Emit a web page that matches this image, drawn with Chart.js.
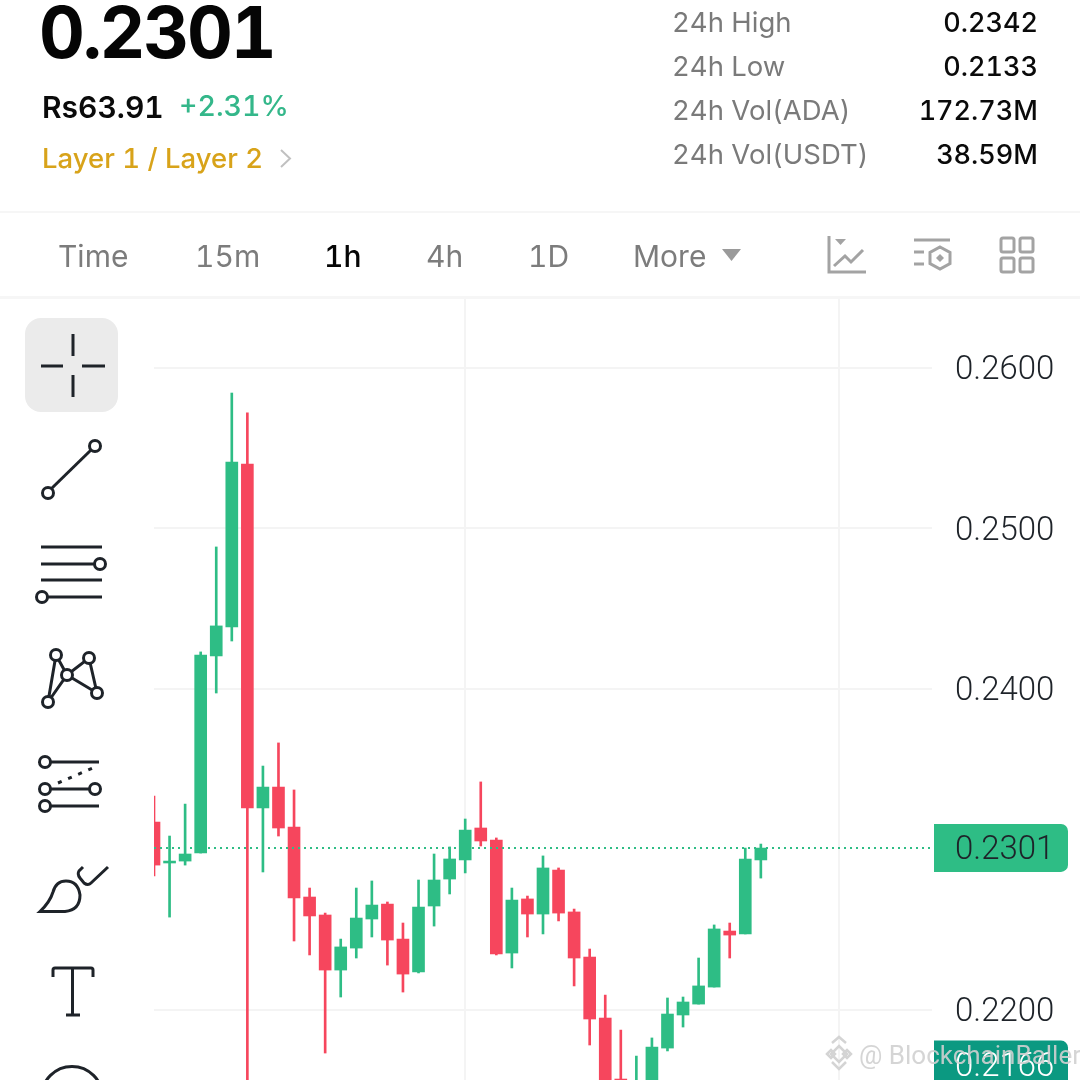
<!DOCTYPE html>
<html>
<head>
<meta charset="utf-8">
<title>ADA/USDT 1h</title>
<script src="https://cdn.jsdelivr.net/npm/chart.js@4"></script>
<style>
html, body { margin: 0; padding: 0; background: #fff; }
#page { position: relative; width: 1080px; height: 1080px; overflow: hidden; font-family: Inter, sans-serif; font-variant-numeric: tabular-nums; }
#page div { position: absolute; white-space: nowrap; line-height: 1; }
canvas { position: absolute; left: 0; top: 0; }
svg { position: absolute; left: 0; top: 0; }
.stat { left: 672px; font-size: 27.5px; color: #7a7a7a; }
.val { right: 42px; font-size: 27px; font-weight: 500; color: #0a0a0a; }
.tab { top: 241px; font-size: 30px; color: #7c7c7c; }
</style>
</head>
<body>
<div id="page">
  <canvas id="chart" width="1080" height="1080"></canvas>
  <svg width="1080" height="1080" fill="none" stroke="#1e2329" stroke-width="3">
    <!-- header right icons -->
    <g stroke="#a3a3a3">
      <path d="M829 236V272H866"/>
      <path d="M834 266L845 256L851 262L863 250"/>
      <path d="M835 239H846L840.5 245Z" fill="#a3a3a3" stroke="none"/>
      <path d="M914 240H950M914 252H924M914 264H924"/>
      <path d="M940 247L950 252.500V263.500L940 269L930 263.500V252.500Z"/>
      <path d="M940 254L944 258L940 262L936 258Z" fill="#a3a3a3" stroke="none"/>
      <rect x="1001" y="238" width="13" height="14" rx="2"/>
      <rect x="1020" y="238" width="13" height="14" rx="2"/>
      <rect x="1001" y="258" width="13" height="14" rx="2"/>
      <rect x="1020" y="258" width="13" height="14" rx="2"/>
    </g>
    <path d="M722 249H741L731.500 261Z" fill="#9a9a9a" stroke="none"/>
    <path d="M281 150L290 158.500L281 167" stroke="#c0c0c0" stroke-width="2"/>
    <rect x="0" y="211.500" width="1080" height="1" fill="#eeeeee" stroke="none"/>
    <rect x="0" y="296" width="1080" height="3" fill="#f6f6f6" stroke="none"/>
    <!-- drawing toolbar -->
    <rect x="25" y="318" width="93" height="94" rx="16" fill="#ebebeb" stroke="none"/>
    <path d="M73 334V356M73 375V397M41 366H63M82 366H105"/>
    <path d="M51 489L91 450"/>
    <circle cx="48" cy="493" r="5.500" fill="#fff"/>
    <circle cx="95" cy="446" r="5.500" fill="#fff"/>
    <path d="M41 547H102M41 564H95M41 580H102M47 597H102"/>
    <circle cx="100" cy="564" r="5.500" fill="#fff"/>
    <circle cx="42" cy="597" r="5.500" fill="#fff"/>
    <path d="M48 702L56 655L67 675L89 658L97 693L67 675L48 702"/>
    <circle cx="56" cy="655" r="5.500" fill="#fff"/>
    <circle cx="89" cy="658" r="5.500" fill="#fff"/>
    <circle cx="67" cy="675" r="5.500" fill="#fff"/>
    <circle cx="97" cy="693" r="5.500" fill="#fff"/>
    <circle cx="48" cy="702" r="5.500" fill="#fff"/>
    <path d="M51 762H99M51 789H90M51 806H99"/>
    <path d="M58 783L95 767" stroke-dasharray="4 7"/>
    <circle cx="45" cy="762" r="5.500" fill="#fff"/>
    <circle cx="45" cy="789" r="5.500" fill="#fff"/>
    <circle cx="95" cy="789" r="5.500" fill="#fff"/>
    <circle cx="45" cy="806" r="5.500" fill="#fff"/>
    <path d="M83 867L79 871Q77 874 80 878L84 883Q88 886 91 883L108 867"/>
    <path d="M40 911.500H65Q80 910 80 895Q78 881 66 881Q56 881 53 892Q50 902 40 911.500Z"/>
    <path d="M53 977V970Q53 968 55 968H91Q93 968 93 970V977M72.500 968V1015M66 1015H80"/>
    <circle cx="72" cy="1097" r="30.500"/>
  </svg>

  <div style="left:39px;top:-3px;font-size:71px;letter-spacing:-2.200px;font-weight:700;color:#050505;">0.2301</div>
  <div style="left:42px;top:92px;font-size:30px;font-weight:600;color:#0a0a0a;">Rs63.91</div>
  <div style="left:179px;top:92px;font-size:28.500px;font-weight:500;color:#34b78a;">+2.31%</div>
  <div style="left:42px;top:145px;font-size:27.500px;font-weight:500;color:#d8a31a;">Layer 1 / Layer 2</div>

  <div class="stat" style="top:9px;">24h High</div><div class="val" style="top:9px;">0.2342</div>
  <div class="stat" style="top:53px;">24h Low</div><div class="val" style="top:53px;">0.2133</div>
  <div class="stat" style="top:97px;">24h Vol(ADA)</div><div class="val" style="top:97px;">172.73M</div>
  <div class="stat" style="top:141px;">24h Vol(USDT)</div><div class="val" style="top:141px;">38.59M</div>

  <div class="tab" style="left:58px;">Time</div>
  <div class="tab" style="left:195px;">15m</div>
  <div class="tab" style="left:324px;color:#050505;font-weight:500;">1h</div>
  <div class="tab" style="left:426px;">4h</div>
  <div class="tab" style="left:528px;">1D</div>
  <div class="tab" style="left:633px;">More</div>

  <svg width="1080" height="1080" fill="none" stroke="#d4d4d4" stroke-width="2.500">
    <!-- watermark logo -->
    <path d="M839 1046L847 1054L839 1062L831 1054Z"/>
    <path d="M832 1043L839 1037L846 1043"/>
    <path d="M827 1054L831 1050L835 1054L831 1058Z"/>
    <path d="M843 1054L847 1050L851 1054L847 1058Z"/>
    <path d="M832 1062L839 1069L846 1062"/>
  </svg>
  <div style="left:859px;top:1042px;font-family:Roboto,sans-serif;font-size:26px;color:rgba(208,208,208,0.9);">@ BlockchainBaller</div>
</div>

<script>
// Candles, oldest first
const opens = [0.23171, 0.22916, 0.22928, 0.22978, 0.24206, 0.24386, 0.25402, 0.23259, 0.23389, 0.2314,
    0.22704, 0.22592, 0.22249, 0.22386, 0.22567, 0.2266, 0.22442, 0.22237, 0.22648, 0.22816,
    0.22935, 0.23134, 0.23059, 0.22355, 0.22692, 0.22598, 0.22872, 0.22611, 0.2233, 0.2195,
    0.2157, 0.215, 0.2152, 0.21763, 0.21969, 0.22037, 0.22143, 0.22492, 0.22474, 0.22935];
const closes = [0.22903, 0.22928, 0.22972, 0.24212, 0.24393, 0.25414, 0.23259, 0.23389, 0.23134, 0.22698,
    0.22586, 0.22249, 0.22393, 0.22573, 0.22654, 0.22436, 0.22224, 0.22642, 0.2281, 0.22941,
    0.23121, 0.23053, 0.22349, 0.22685, 0.22598, 0.22885, 0.22604, 0.22324, 0.21944, 0.2156,
    0.21555, 0.2154, 0.21769, 0.21975, 0.2205, 0.2215, 0.22505, 0.22467, 0.22941, 0.23009];
const highs = [0.23333, 0.23084, 0.23283, 0.24231, 0.24885, 0.25844, 0.2572, 0.2352, 0.23664, 0.23371,
    0.2276, 0.22604, 0.22442, 0.2276, 0.22804, 0.22673, 0.22542, 0.2281, 0.22972, 0.23016,
    0.2319, 0.23421, 0.23072, 0.2276, 0.2271, 0.2296, 0.22885, 0.22629, 0.2238, 0.22093,
    0.21875, 0.21713, 0.21826, 0.22075, 0.22081, 0.22324, 0.2253, 0.22542, 0.23009, 0.23034];
const lows = [0.22835, 0.22579, 0.22903, 0.22978, 0.23975, 0.24299, 0.2133, 0.2286, 0.23084, 0.2243,
    0.22343, 0.21732, 0.22081, 0.22324, 0.22455, 0.2228, 0.22112, 0.22231, 0.22523, 0.22723,
    0.22854, 0.23022, 0.22343, 0.22262, 0.22455, 0.22474, 0.22555, 0.2215, 0.21782, 0.2148,
    0.2145, 0.2145, 0.2148, 0.21745, 0.21894, 0.22037, 0.22143, 0.22324, 0.22474, 0.22822];

// 51 slots on the time axis, the last ones are still empty
const slots = ['00', '01', '02', '03', '04', '05', '06', '07', '08', '09',
    '10', '11', '12', '13', '14', '15', '16', '17', '18', '19',
    '20', '21', '22', '23', '24', '25', '26', '27', '28', '29',
    '30', '31', '32', '33', '34', '35', '36', '37', '38', '39',
    '40', '41', '42', '43', '44', '45', '46', '47', '48', '49', '50'];
const dayLines = [20, 44];
const priceTicks = [0.22, 0.24, 0.25, 0.26];
const lastPrice = 0.2301;
const secondPrice = 0.2166;

const GREEN = '#2ebd85';
const RED = '#f6465d';
const GRID = '#f4f4f4';
const TICK_FONT = '300 33px Roboto, sans-serif';

const candleColors = opens.map((o, i) => closes[i] >= o ? GREEN : RED);

// Price tags sitting on the axis
const priceTags = {
    id: 'priceTags',
    afterDraw(chart) {
        const { ctx, chartArea, scales } = chart;
        const drawTag = (price, fill, textColor) => {
            const y = scales.y.getPixelForValue(price);
            ctx.save();
            ctx.fillStyle = fill;
            ctx.beginPath();
            ctx.roundRect(chartArea.right + 2, y - 24, 134, 48, [0, 7, 7, 0]);
            ctx.fill();
            ctx.fillStyle = textColor;
            ctx.font = TICK_FONT;
            ctx.textBaseline = 'middle';
            ctx.fillText(price.toFixed(4), 955, y + 3);
            ctx.restore();
        };
        drawTag(lastPrice, GREEN, '#1e2329');
        drawTag(secondPrice, '#0b9981', '#ffffff');
    }
};

const chart = new Chart(document.getElementById('chart').getContext('2d'), {
    type: 'bar',
    data: {
        labels: slots,
        datasets: [
            {
                type: 'line',
                data: slots.map(() => lastPrice),
                borderColor: GREEN,
                borderWidth: 2,
                borderDash: [2, 4],
                pointRadius: 0,
                order: 0
            },
            {
                data: opens.map((o, i) => [o, closes[i]]),
                backgroundColor: candleColors,
                barThickness: 12,
                grouped: false,
                order: 1
            },
            {
                data: lows.map((l, i) => [l, highs[i]]),
                backgroundColor: candleColors,
                barThickness: 2,
                grouped: false,
                order: 2
            }
        ]
    },
    options: {
        responsive: false,
        animation: false,
        devicePixelRatio: 1,
        layout: { padding: { left: 154, top: 298, right: 0, bottom: 0 } },
        plugins: { legend: { display: false }, tooltip: { enabled: false } },
        scales: {
            x: {
                offset: false,
                afterFit: (scale) => { scale.height = 0; scale.paddingLeft = 0; scale.paddingRight = 0; },
                ticks: { display: false, autoSkip: false },
                grid: {
                    offset: false,
                    color: (c) => dayLines.includes(c.index) ? GRID : 'transparent',
                    lineWidth: 2,
                    drawTicks: false
                },
                border: { display: false }
            },
            y: {
                position: 'right',
                min: 0.21564,
                max: 0.26436,
                afterBuildTicks: (scale) => { scale.ticks = priceTicks.map(value => ({ value })); },
                afterFit: (scale) => { scale.width = 148; scale.paddingTop = 0; scale.paddingBottom = 0; },
                ticks: {
                    autoSkip: false,
                    padding: 23,
                    labelOffset: 3,
                    color: '#1e2329',
                    font: { family: 'Roboto, sans-serif', size: 33, weight: '300' },
                    callback: (value) => value.toFixed(4)
                },
                grid: { color: GRID, lineWidth: 2, drawTicks: false },
                border: { display: false }
            }
        }
    },
    plugins: [priceTags]
});
</script>
</body>
</html>
